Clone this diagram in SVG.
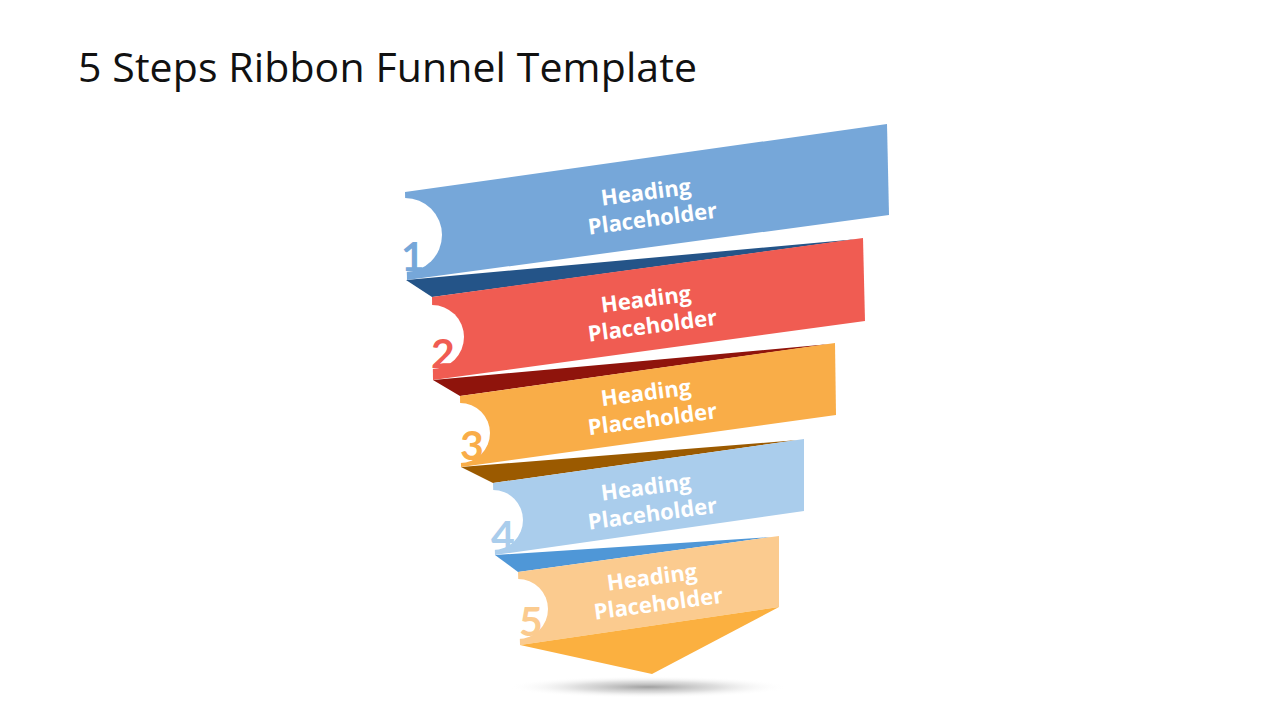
<svg xmlns="http://www.w3.org/2000/svg" width="1280" height="720" viewBox="0 0 1280 720">
  <defs>
    <radialGradient id="shadow" cx="0.5" cy="0.5" r="0.5">
      <stop offset="0" stop-color="#8f8f8f" stop-opacity="0.85"/>
      <stop offset="0.5" stop-color="#bdbdbd" stop-opacity="0.5"/>
      <stop offset="1" stop-color="#ffffff" stop-opacity="0"/>
    </radialGradient>
    <style>
      .title { font-family: "Open Sans", "Liberation Sans", sans-serif; font-size: 41px; fill: #111111; }
      .head { font-family: "Open Sans", "Liberation Sans", sans-serif; font-weight: 700; font-size: 22px; fill: #ffffff; text-anchor: middle; }
      .num { font-family: Lato, "DejaVu Sans", sans-serif; font-weight: 700; font-size: 41px; text-anchor: middle; }
      .notch { fill: #ffffff; }
    </style>
  </defs>
  <rect width="1280" height="720" fill="#ffffff"/>
  <text class="title" x="78" y="82" textLength="619" lengthAdjust="spacing">5 Steps Ribbon Funnel Template</text>

  <ellipse cx="648" cy="687" rx="140" ry="11" fill="url(#shadow)"/>

  <g id="connectors">
    <polygon points="406,280 432,297 858,239" fill="#245488"/>
    <polygon points="433,380 460,396 830,344" fill="#8F140C"/>
    <polygon points="461,467 493,483 798,440" fill="#9B5A00"/>
    <polygon points="495,555 518,572 772,537" fill="#4F97D7"/>
  </g>

  <g id="step1">
    <polygon points="405,192 887,124 889,215 407,280" fill="#76A7D9"/>
    <circle class="notch" cx="405" cy="235" r="37"/>
    <text class="num" x="413" y="271" fill="#76A7D9">1</text>
    <g transform="translate(650,211.5) rotate(-7.5)">
      <text class="head" x="-1.5" y="-12">Heading</text>
      <text class="head" x="1.5" y="15">Placeholder</text>
    </g>
  </g>

  <g id="step2">
    <polygon points="432,297 863,238 865,321 433,380" fill="#F05C52"/>
    <circle class="notch" cx="432" cy="337" r="32"/>
    <text class="num" x="443" y="368" fill="#F05C52">2</text>
    <g transform="translate(650,318.5) rotate(-7.5)">
      <text class="head" x="-1.5" y="-12">Heading</text>
      <text class="head" x="1.5" y="15">Placeholder</text>
    </g>
  </g>

  <g id="step3">
    <polygon points="460,396 835,343 836,415 461,467" fill="#F9AD48"/>
    <circle class="notch" cx="460" cy="433" r="30"/>
    <text class="num" x="472" y="460" fill="#F9AD48">3</text>
    <g transform="translate(650,412) rotate(-7.5)">
      <text class="head" x="-1.5" y="-12">Heading</text>
      <text class="head" x="1.5" y="15">Placeholder</text>
    </g>
  </g>

  <g id="step4">
    <polygon points="493,483 804,439 804,511 495,555" fill="#AACDEC"/>
    <circle class="notch" cx="493" cy="520" r="30"/>
    <text class="num" x="503" y="550" fill="#AACDEC">4</text>
    <g transform="translate(650,506.5) rotate(-7.5)">
      <text class="head" x="-1.5" y="-12">Heading</text>
      <text class="head" x="1.5" y="15">Placeholder</text>
    </g>
  </g>

  <g id="step5">
    <polygon points="518,572 779,536 779,607 520,645" fill="#FBCB8F"/>
    <polygon points="520,645 779,607 652,674" fill="#FBB040"/>
    <circle class="notch" cx="518" cy="609" r="30"/>
    <text class="num" x="531" y="636" fill="#FBCB8F">5</text>
    <g transform="translate(656,596.5) rotate(-7.5)">
      <text class="head" x="-1.5" y="-12">Heading</text>
      <text class="head" x="1.5" y="15">Placeholder</text>
    </g>
  </g>
</svg>
